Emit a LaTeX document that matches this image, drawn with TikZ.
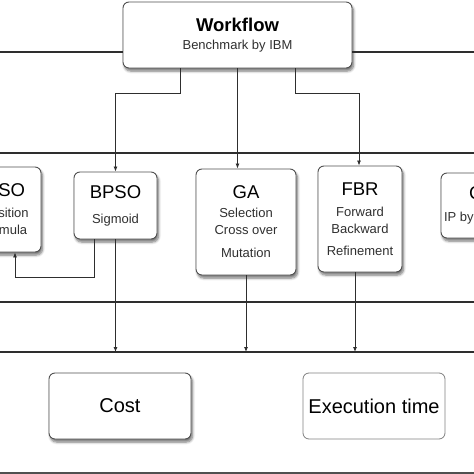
\documentclass[tikz,border=0pt]{standalone}
\usepackage{fontspec}
\setmainfont{Liberation Sans}
\usepackage{xcolor}
\usetikzlibrary{arrows.meta,shadows.blur,positioning,calc}

\definecolor{linegray}{HTML}{2E2E2E}
\definecolor{boxgray}{HTML}{505050}
\definecolor{subgray}{HTML}{303030}

\begin{document}
\begin{tikzpicture}[
            x=1pt, y=-1pt,
            box/.style={draw=boxgray, line width=0.9pt, rounded corners=6pt, fill=white, align=center, inner sep=0pt,
                font=\fontsize{13}{17}\selectfont, text=subgray,
                blur shadow={shadow xshift=1.5pt, shadow yshift=-3pt, shadow opacity=55, shadow blur steps=6, shadow blur radius=2.5pt}},
            flatbox/.style={draw=gray, line width=0.8pt, rounded corners=6pt, fill=white, align=center, inner sep=0pt},
            arrow/.style={-{Latex[length=5pt,width=4pt]}, line width=0.8pt, draw=linegray},
            bar/.style={line width=1.1pt, draw=linegray},
            big/.style={font=\fontsize{20}{22}\selectfont, text=black}
        ]
            \useasboundingbox (0,0) rectangle (474,474);
            \clip (0,0) rectangle (474,474);

            % Horizontal bars
            \coordinate (topL) at (0,52);
            \coordinate (topR) at (474,52);
            \coordinate (midL) at (0,153);
            \coordinate (midR) at (474,153);
            \coordinate (lowL) at (0,302);
            \coordinate (lowR) at (474,302);
            \coordinate (outL) at (0,352);
            \coordinate (outR) at (474,352);
            \coordinate (endL) at (0,473);
            \coordinate (endR) at (474,473);

            \draw[bar] (midL) -- (midR);
            \draw[bar] (lowL) -- (lowR);
            \draw[bar] (outL) -- (outR);
            \draw[line width=3pt, draw=boxgray] (endL) -- (endR);

            \node[box, minimum width=229, minimum height=66] (workflow) at (237.5,35)
                {{\color{black}\bfseries\fontsize{18.5}{20}\selectfont Workflow}\\[1.5pt]Benchmark by IBM};
            \draw[bar] (topL) -- (topL -| workflow.west);
            \draw[bar] (topR) -- (topR -| workflow.east);

            % Algorithms
            \node[box, minimum width=71, minimum height=85] (pso) at (5.5,209.5)
                {{\color{black}\fontsize{18.5}{20}\selectfont PSO}\\[4pt]Position\\formula};
            \node[box, minimum width=83, minimum height=67] (bpso) at (115.5,205.5)
                {{\color{black}\fontsize{18.5}{20}\selectfont BPSO}\\[8pt]Sigmoid};
            \node[box, minimum width=100, minimum height=106] (ga) at (246,222)
                {{\color{black}\fontsize{18.5}{20}\selectfont GA}\\[2pt]Selection\\Cross over\\[6pt]Mutation};
            \node[box, minimum width=84, minimum height=106] (fbr) at (360,219)
                {{\color{black}\fontsize{18.5}{20}\selectfont FBR}\\[4pt]Forward\\Backward\\[5pt]Refinement};
            \node[box, minimum width=82, minimum height=65] (cp) at (482,205.5)
                {{\color{black}\fontsize{18.5}{20}\selectfont CP}\\[5pt]IP by CPLEX};

            \draw[arrow] ([xshift=-57.5pt]workflow.south) -- ++(0,25) -| (bpso.north);
            \draw[arrow] (workflow.south) -- (workflow.south |- ga.north);
            \draw[arrow] ([xshift=57.5pt]workflow.south) -- ++(0,25) -| ([xshift=-1pt]fbr.north);
            \draw[arrow] ([xshift=-21.5pt]bpso.south) -- ++(0,38) -| ([xshift=9.5pt]pso.south);

            \draw[arrow] (bpso.south) -- (bpso.south |- outL);
            \draw[arrow] (ga.south) -- (ga.south |- outL);
            \draw[arrow] ([xshift=-5pt]fbr.south) -- ([xshift=-5pt]fbr.south |- outL);

            % Objectives
            \node[box, big, minimum width=142, minimum height=66] (cost) at (120,406) {Cost};
            \node[flatbox, big, minimum width=142, minimum height=66] (exectime) at (374,406) {Execution time};
        \end{tikzpicture}
\end{document}
